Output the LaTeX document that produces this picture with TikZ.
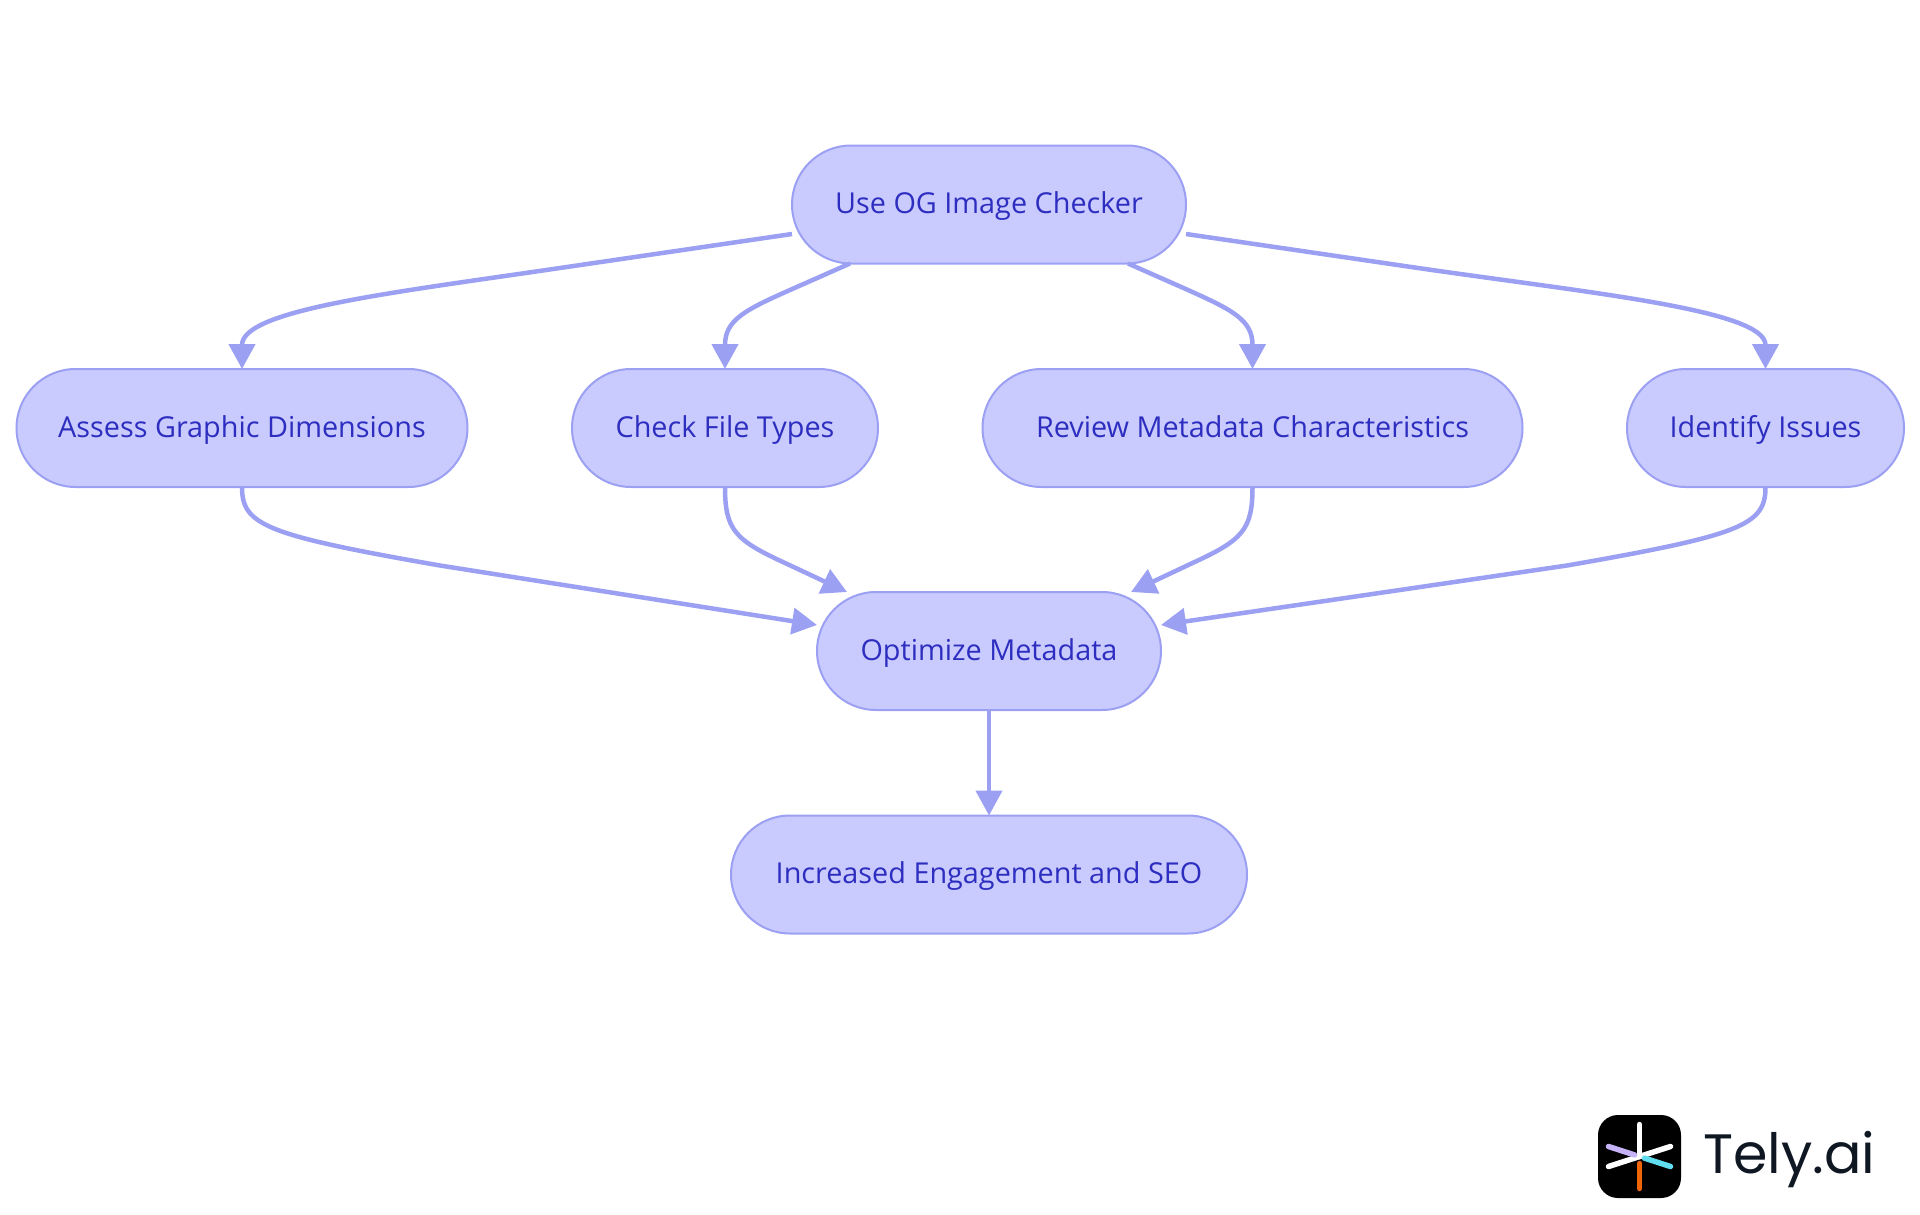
\documentclass[tikz,border=0pt]{standalone}
\usepackage{fontspec}
\setmainfont{Open Sans}
\newfontfamily\logofont{Poppins}
\usetikzlibrary{arrows.meta}
\definecolor{nodefill}{HTML}{C9CAFD}
\definecolor{edgecol}{HTML}{9CA0F3}
\definecolor{textcol}{HTML}{2D2EC0}
\definecolor{logoink}{HTML}{0F1723}
\tikzset{
  x=1pt,y=-1pt,
  flowbox/.style={draw=edgecol,fill=nodefill,line width=2pt,rounded corners=59pt,minimum height=118pt,inner sep=0pt,outer sep=0pt,text height=24pt,text depth=6pt,text=textcol,font=\fontsize{28.8}{34}\selectfont,anchor=center},
  link/.style={draw=edgecol,line width=4.5pt,-{Triangle[length=25pt,width=26pt]}},
  spoke/.style={line width=5.5pt,line cap=round}
}
\begin{document}
\begin{tikzpicture}
\useasboundingbox (0,0) rectangle (1920,1215);
\node[flowbox,minimum width=394pt] (top) at (989,204.5) {Use OG Image Checker};
\node[flowbox,minimum width=451pt] (assess) at (242,428) {Assess Graphic Dimensions};
\node[flowbox,minimum width=306pt] (check) at (725,428) {Check File Types};
\node[flowbox,minimum width=540pt] (review) at (1252.5,428) {Review Metadata Characteristics};
\node[flowbox,minimum width=277pt] (issues) at (1765.5,428) {Identify Issues};
\node[flowbox,minimum width=344pt] (opt) at (989,651) {Optimize Metadata};
\node[flowbox,minimum width=516pt] (incr) at (989,874.5) {Increased Engagement and SEO};
\draw[link] ([yshift=-29.5pt]top.west) -- (560,268) .. controls (390,293) and (242,310) .. (assess.north);
\draw[link] ([xshift=-139pt]top.south) -- (790,290) .. controls (745,310) and (725,320) .. (check.north);
\draw[link] ([xshift=139pt]top.south) -- (1188,290) .. controls (1232.5,310) and (1252.5,320) .. (review.north);
\draw[link] ([yshift=-29.5pt]top.east) -- (1418,268) .. controls (1590,293) and (1765.5,310) .. (issues.north);
\draw[link] (assess.south) .. controls (242,525) and (265,535) .. (440,565.5) -- ([yshift=26pt]opt.west);
\draw[link] (check.south) .. controls (725,530) and (735,540) .. (785,563) -- ([xshift=-142pt]opt.north);
\draw[link] (review.south) .. controls (1252.5,530) and (1242.5,540) .. (1192.5,563) -- ([xshift=142pt]opt.north);
\draw[link] (issues.south) .. controls (1765.5,525) and (1742,535) .. (1567,565.5) -- ([yshift=26pt]opt.east);
\draw[link] (opt.south) -- (incr.north);
\node[fill=black,rounded corners=20pt,minimum width=83pt,minimum height=83pt,inner sep=0pt] (logomark) at (1639.5,1156.5) {};
\coordinate (hub) at (logomark.center);
\draw[spoke,white] (hub) -- ++(0,-32);
\draw[spoke,white] (hub) -- ++(31,-10);
\draw[spoke,white] (hub) -- ++(-31,10);
\draw[spoke,color={rgb,255:red,198;green,178;blue,247}] ([shift={(-5,-1.6)}]hub) -- ++(-26,-8.4);
\draw[spoke,color={rgb,255:red,96;green,222;blue,240}] ([shift={(5,1.6)}]hub) -- ++(26,8.4);
\draw[spoke,color={rgb,255:red,240;green,100;blue,10}] ([yshift=-7pt]hub) -- ++(0,25);
\node[text=logoink,font=\logofont\fontsize{55.5}{60}\selectfont,anchor=center,inner sep=0pt] (logotext) at (1789.5,1160) {Tely.ai};
\end{tikzpicture}
\end{document}
